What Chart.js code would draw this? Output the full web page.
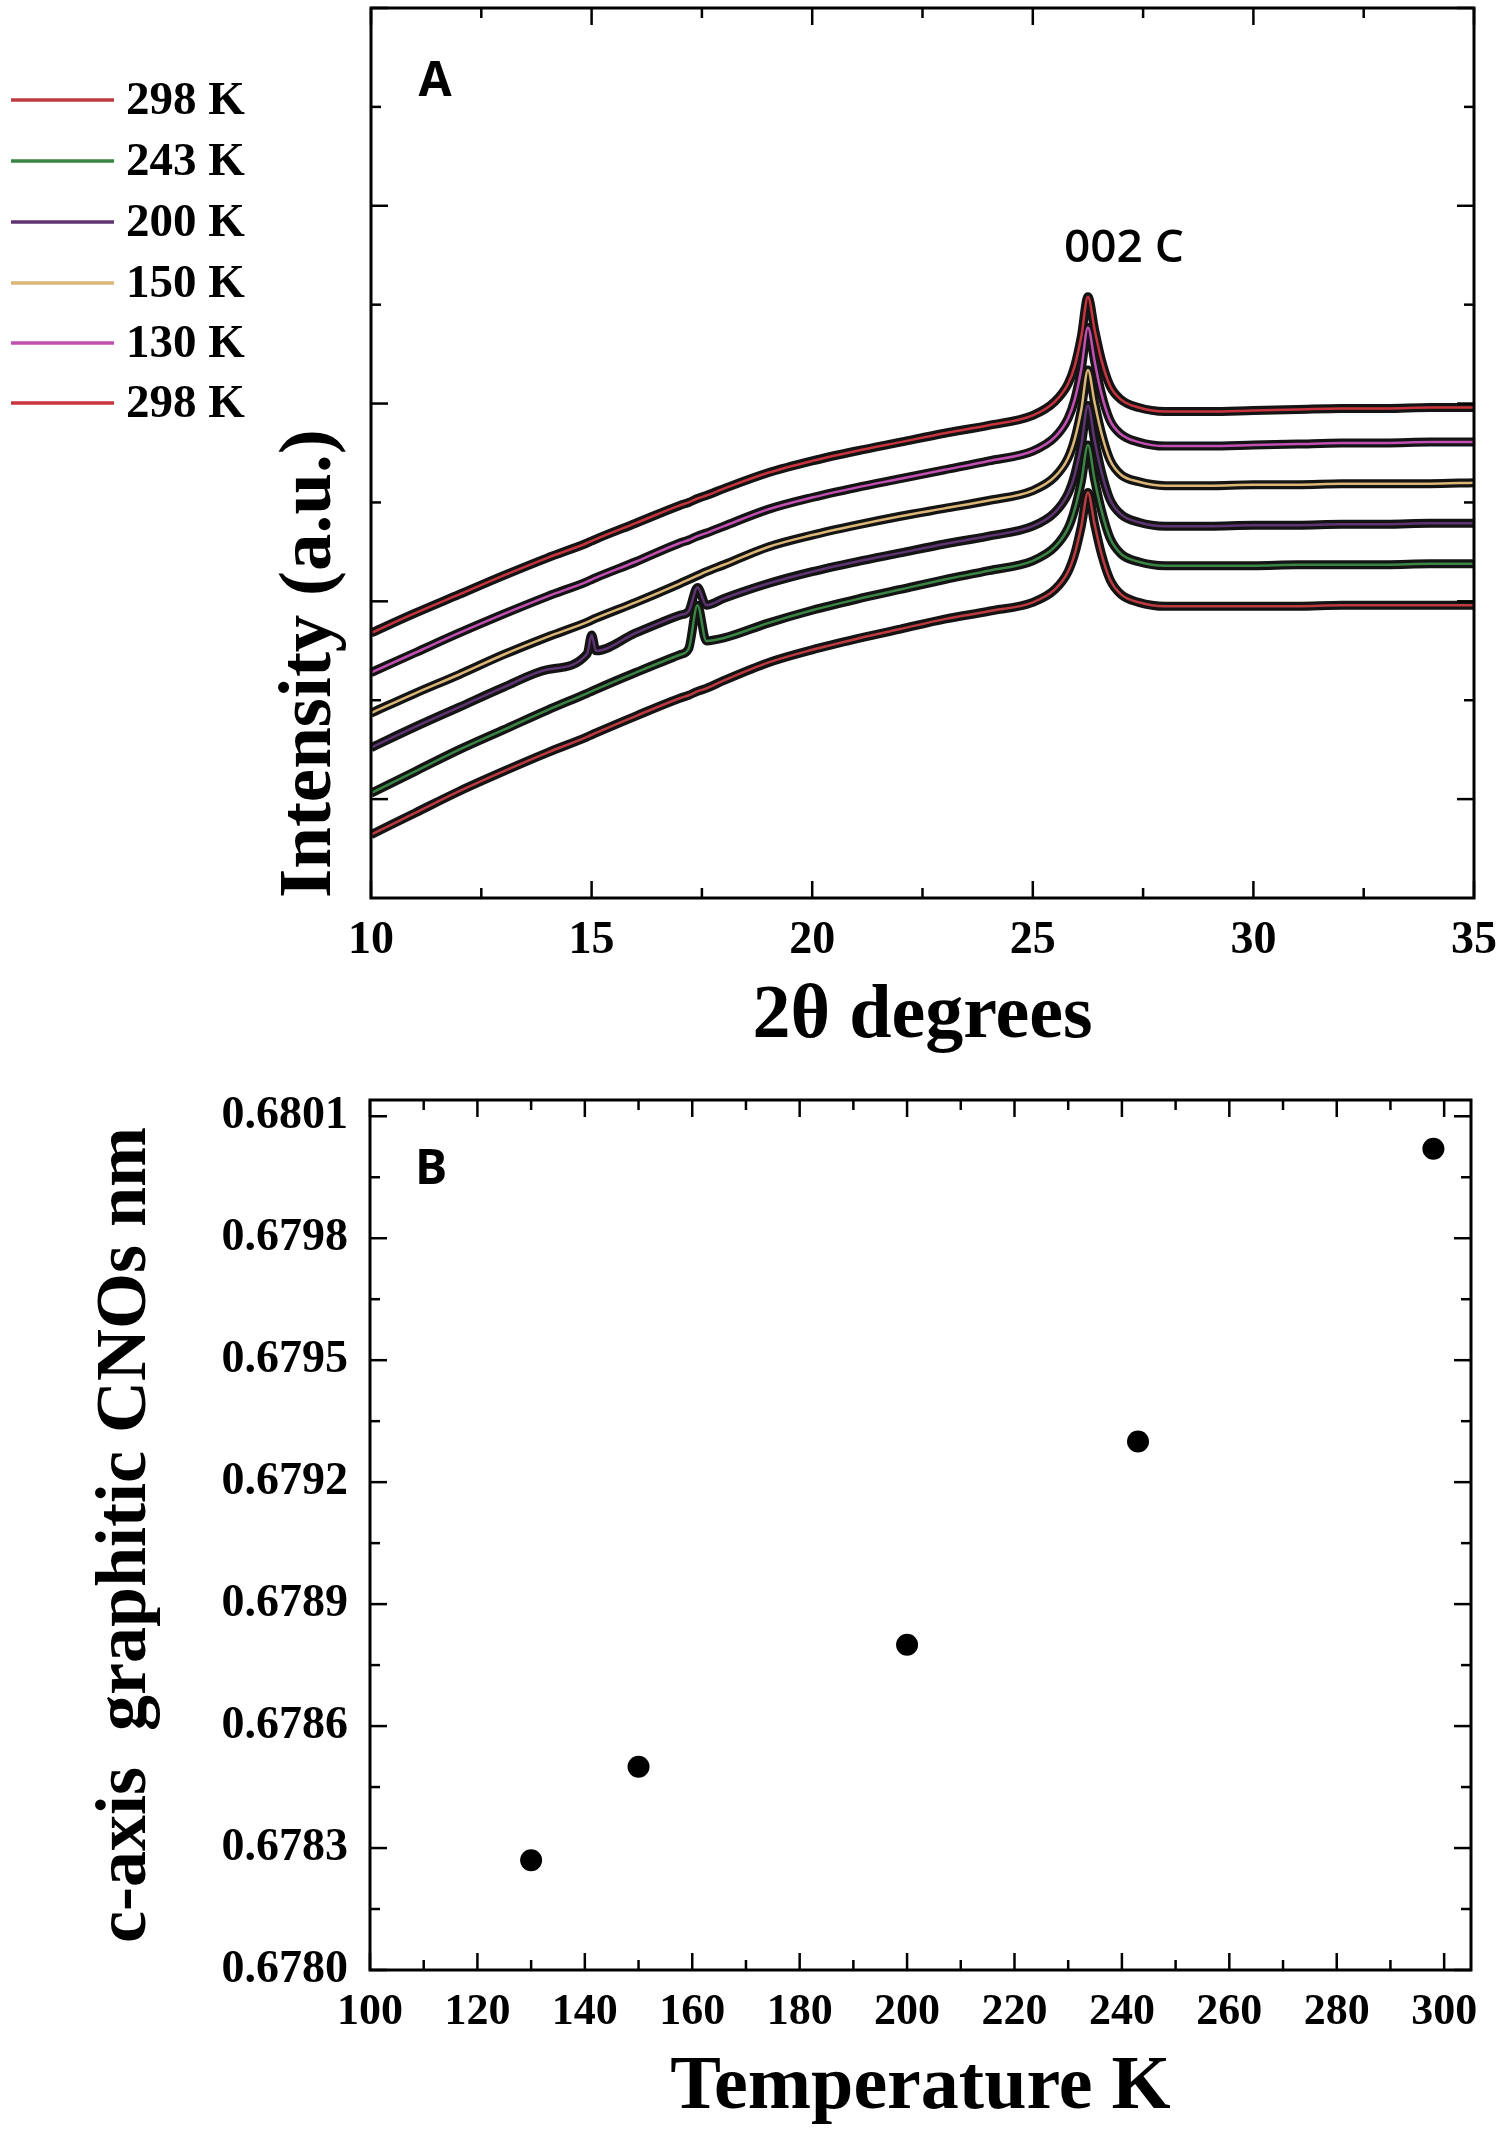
<!DOCTYPE html>
<html>
<head>
<meta charset="utf-8">
<script src="https://cdn.jsdelivr.net/npm/chart.js@4.4.1/dist/chart.umd.min.js"></script>
<style>
  html, body { margin: 0; padding: 0; background: #fff; }
  #wrap { position: relative; width: 1500px; height: 2140px; }
  canvas { position: absolute; left: 0; }
  #xrd { top: 0; }
  #lattice { top: 1064px; }
</style>
</head>
<body>
<div id="wrap">
  <canvas id="xrd" width="1500" height="1064"></canvas>
  <canvas id="lattice" width="1500" height="1076"></canvas>
</div>
<script>
// ---- panel A : XRD traces (offset, arbitrary units) ----
const twoTheta = [10, 11, 12, 13, 14, 14.9, 15, 15.1, 16, 17, 17.2, 17.4, 17.6, 18, 19, 20, 21, 22, 23, 24, 25,
  25.5, 25.8, 25.95, 26.1, 26.25, 26.4, 26.55, 26.75, 27, 27.4, 28, 29, 30, 31, 32, 33, 34, 35];

const trace298low = [0.64, 0.86, 1.08, 1.28, 1.47, 1.63, 1.65, 1.67, 1.84, 2.02, 2.05, 2.09, 2.12, 2.20, 2.38, 2.51, 2.62, 2.72, 2.82, 2.90, 2.99,
  3.12, 3.30, 3.48, 3.76, 4.10, 3.78, 3.49, 3.22, 3.07, 2.99, 2.95, 2.95, 2.95, 2.95, 2.96, 2.96, 2.96, 2.96];
const trace243 = [1.06, 1.28, 1.50, 1.70, 1.90, 2.07, 2.09, 2.11, 2.28, 2.46, 2.52, 2.96, 2.60, 2.63, 2.78, 2.91, 3.02, 3.12, 3.22, 3.31, 3.41,
  3.55, 3.74, 3.93, 4.21, 4.58, 4.23, 3.93, 3.64, 3.48, 3.40, 3.36, 3.36, 3.36, 3.37, 3.37, 3.37, 3.38, 3.38];
const trace200 = [1.52, 1.73, 1.93, 2.13, 2.31, 2.47, 2.66, 2.50, 2.68, 2.86, 2.90, 3.14, 2.96, 3.03, 3.18, 3.30, 3.40, 3.49, 3.58, 3.66, 3.76,
  3.90, 4.09, 4.28, 4.58, 4.98, 4.63, 4.32, 4.03, 3.88, 3.80, 3.76, 3.76, 3.77, 3.77, 3.78, 3.78, 3.79, 3.79];
const trace150 = [1.87, 2.07, 2.26, 2.46, 2.64, 2.79, 2.81, 2.83, 2.99, 3.18, 3.22, 3.26, 3.30, 3.37, 3.55, 3.67, 3.77, 3.86, 3.94, 4.02, 4.12,
  4.26, 4.45, 4.64, 4.94, 5.34, 5.01, 4.71, 4.43, 4.28, 4.21, 4.17, 4.17, 4.18, 4.18, 4.19, 4.19, 4.19, 4.20];
const trace130 = [2.28, 2.48, 2.68, 2.87, 3.05, 3.20, 3.22, 3.24, 3.40, 3.59, 3.62, 3.66, 3.69, 3.76, 3.93, 4.05, 4.15, 4.24, 4.33, 4.42, 4.52,
  4.66, 4.85, 5.04, 5.35, 5.77, 5.43, 5.11, 4.83, 4.69, 4.61, 4.57, 4.57, 4.58, 4.59, 4.60, 4.60, 4.61, 4.61];
const trace298top = [2.68, 2.88, 3.07, 3.26, 3.44, 3.59, 3.61, 3.63, 3.79, 3.97, 4.00, 4.04, 4.07, 4.14, 4.30, 4.42, 4.52, 4.61, 4.70, 4.78, 4.88,
  5.02, 5.20, 5.38, 5.68, 6.08, 5.75, 5.45, 5.18, 5.04, 4.96, 4.92, 4.92, 4.93, 4.94, 4.95, 4.95, 4.96, 4.96];

const legendLabels = ['298 K', '243 K', '200 K', '150 K', '130 K', '298 K'];
const traceColors = ['#bd3a40', '#3a8444', '#5f3472', '#dcb676', '#c24fb2', '#c8343e'];

const xTicksA = [10, 15, 20, 25, 30, 35];
const yMajorA = [1, 3, 5, 7, 9];
const yMinorA = [2, 4, 6, 8];

// ---- panel B : c-axis vs temperature ----
const tempK = [130, 150, 200, 243, 298];
const cAxisNm = [0.67827, 0.67850, 0.67880, 0.67930, 0.68002];
const xTicksB = [100, 120, 140, 160, 180, 200, 220, 240, 260, 280, 300];
const yTicksB = [0.6780, 0.6783, 0.6786, 0.6789, 0.6792, 0.6795, 0.6798, 0.6801];

const serif = '"Liberation Serif", "Times New Roman", serif';
const sans = '"Open Sans", "Noto Sans", sans-serif';

function mids(arr) {
  const out = [];
  for (let i = 0; i < arr.length - 1; i++) out.push((arr[i] + arr[i + 1]) / 2);
  return out;
}

// 坐标轴不为刻度标签额外留边，绘图区由 layout.padding 决定
function noPad(s) {
  s.paddingLeft = 0; s.paddingRight = 0; s.paddingTop = 0; s.paddingBottom = 0;
}

// 边框和朝内的刻度
const frameTicks = {
  id: 'frameTicks',
  afterDraw(chart, args, opts) {
    const { ctx, chartArea: a, scales } = chart;
    const sx = scales.x, sy = scales.y;
    ctx.save();
    ctx.strokeStyle = '#000';
    ctx.lineWidth = 2.5;
    const seg = (x1, y1, x2, y2) => { ctx.beginPath(); ctx.moveTo(x1, y1); ctx.lineTo(x2, y2); ctx.stroke(); };
    const xt = (vals, len) => vals.forEach(v => {
      const p = sx.getPixelForValue(v);
      seg(p, a.bottom, p, a.bottom - len);
      seg(p, a.top, p, a.top + len);
    });
    const yt = (vals, len) => vals.forEach(v => {
      const p = sy.getPixelForValue(v);
      seg(a.left, p, a.left + len, p);
      seg(a.right, p, a.right - len, p);
    });
    xt(opts.xMajor, 17); xt(opts.xMinor, 10);
    yt(opts.yMajor, 17); yt(opts.yMinor, 10);
    ctx.lineWidth = 3;
    ctx.strokeRect(a.left, a.top, a.right - a.left, a.bottom - a.top);
    ctx.restore();
  }
};

// 面板字母、峰标记、左侧图例
const notes = {
  id: 'notes',
  afterDraw(chart, args, opts) {
    const ctx = chart.ctx;
    ctx.save();
    ctx.fillStyle = '#000';
    ctx.textAlign = 'center';
    ctx.textBaseline = 'middle';
    (opts.texts || []).forEach(t => {
      ctx.font = t.font;
      ctx.fillText(t.text, t.x, t.y);
    });
    if (opts.legendRows) {
      ctx.textAlign = 'left';
      ctx.font = 'bold 47px ' + serif;
      chart.data.datasets.forEach(d => {
        if (d.legendRow === undefined) return;
        const yy = opts.legendRows[d.legendRow];
        ctx.strokeStyle = d.borderColor;
        ctx.lineWidth = 3.5;
        ctx.beginPath(); ctx.moveTo(11, yy); ctx.lineTo(114, yy); ctx.stroke();
        ctx.fillText(d.label, 126, yy + 2);
      });
    }
    ctx.restore();
  }
};

// ---- 图 A ----
const traces = [trace298low, trace243, trace200, trace150, trace130, trace298top];
const datasetsA = [];
traces.forEach((vals, i) => {
  const pts = twoTheta.map((t, j) => ({ x: t, y: vals[j] }));
  datasetsA.push({
    label: legendLabels[i], data: pts, borderColor: traceColors[i], borderWidth: 2.5,
    pointRadius: 0, cubicInterpolationMode: 'monotone', order: 0, legendRow: i
  });
  datasetsA.push({
    label: legendLabels[i] + ' data', data: pts, borderColor: '#141414', borderWidth: 9,
    pointRadius: 0, cubicInterpolationMode: 'monotone', order: 1
  });
});

new Chart(document.getElementById('xrd'), {
  type: 'line',
  data: { datasets: datasetsA },
  options: {
    responsive: false,
    animation: false,
    devicePixelRatio: 1,
    layout: { padding: { left: 0, top: 8, right: 26, bottom: 0 } },
    plugins: {
      legend: { display: false },
      tooltip: { enabled: false },
      frameTicks: { xMajor: xTicksA, xMinor: mids(xTicksA), yMajor: yMajorA, yMinor: yMinorA },
      notes: {
        texts: [
          { text: 'A', x: 435, y: 82, font: 'bold 48px ' + sans },
          { text: '002 C', x: 1124, y: 249, font: '600 46px ' + sans }
        ],
        legendRows: [100, 161, 222, 283, 343, 403]
      }
    },
    scales: {
      x: {
        type: 'linear', min: 10, max: 35,
        afterBuildTicks: s => { s.ticks = xTicksA.map(v => ({ value: v })); },
        afterFit: s => { s.height = 166; noPad(s); },
        grid: { display: false, drawTicks: false },
        border: { display: false },
        ticks: { color: '#000', font: { family: serif, size: 46, weight: 'bold' }, padding: 16, maxRotation: 0, autoSkip: false },
        title: { display: true, text: '2θ degrees', color: '#000', font: { family: serif, size: 76, weight: 'bold' }, padding: { top: 0, bottom: 1 } }
      },
      y: {
        min: 0, max: 9,
        afterFit: s => { s.width = 371; noPad(s); },
        grid: { display: false, drawTicks: false },
        border: { display: false },
        ticks: { display: false },
        title: { display: true, text: 'Intensity (a.u.)', align: 'start', color: '#000', font: { family: serif, size: 75, weight: 'bold' }, padding: { top: 266, bottom: 0 } }
      }
    }
  },
  plugins: [frameTicks, notes]
});

// ---- 图 B ----
new Chart(document.getElementById('lattice'), {
  type: 'scatter',
  data: {
    datasets: [{
      label: 'c-axis',
      data: tempK.map((t, i) => ({ x: t, y: cAxisNm[i] })),
      pointRadius: 11, pointBackgroundColor: '#000', pointBorderWidth: 0, showLine: false
    }]
  },
  options: {
    responsive: false,
    animation: false,
    devicePixelRatio: 1,
    layout: { padding: { left: 0, top: 36, right: 29, bottom: 0 } },
    plugins: {
      legend: { display: false },
      tooltip: { enabled: false },
      frameTicks: { xMajor: xTicksB, xMinor: mids(xTicksB), yMajor: yTicksB, yMinor: mids(yTicksB) },
      notes: { texts: [{ text: 'B', x: 431, y: 106, font: 'bold 48px ' + sans }] }
    },
    scales: {
      x: {
        type: 'linear', min: 100, max: 305,
        afterBuildTicks: s => { s.ticks = xTicksB.map(v => ({ value: v })); },
        afterFit: s => { s.height = 170; noPad(s); },
        grid: { display: false, drawTicks: false },
        border: { display: false },
        ticks: { color: '#000', font: { family: serif, size: 44, weight: 'bold' }, padding: 16, maxRotation: 0, autoSkip: false },
        title: { display: true, text: 'Temperature K', color: '#000', font: { family: serif, size: 76, weight: 'bold' }, padding: { top: 0, bottom: 6 } }
      },
      y: {
        min: 0.6780, max: 0.68014,
        afterBuildTicks: s => { s.ticks = yTicksB.map(v => ({ value: v })); },
        afterFit: s => { s.width = 370; noPad(s); },
        grid: { display: false, drawTicks: false },
        border: { display: false },
        ticks: { color: '#000', font: { family: serif, size: 46, weight: 'bold' }, padding: 22, autoSkip: false,
          callback: v => Number(v).toFixed(4) },
        title: { display: true, text: 'c-axis  graphitic CNOs nm', color: '#000', font: { family: serif, size: 72, weight: 'bold' }, padding: { top: 83, bottom: 0 } }
      }
    }
  },
  plugins: [frameTicks, notes]
});
</script>
</body>
</html>
